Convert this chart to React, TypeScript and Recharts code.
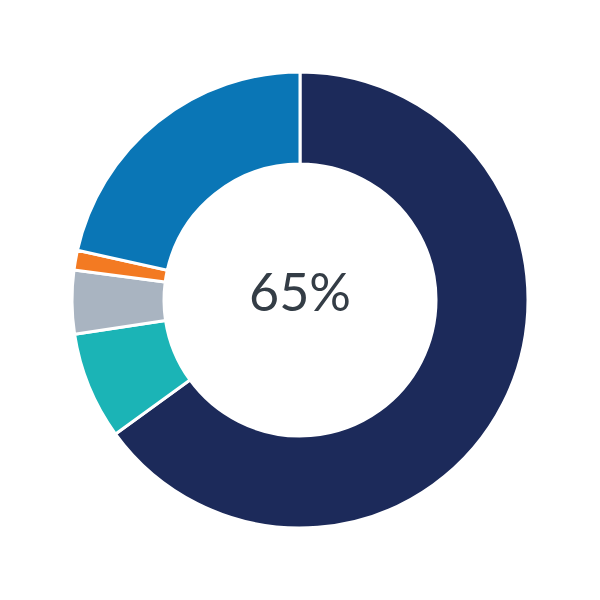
import { PieChart, Pie, Cell } from "recharts";

const labels = ["Navy", "Teal", "Gray", "Orange", "Blue"];
const values = [65, 7.6, 4.5, 1.4, 21.5];
const colors = ["#1c2a5a", "#1bb4b6", "#a9b4c1", "#f37a22", "#0a76b6"];
const centerLabel = "65%";

const data = labels.map((name, i) => ({ name, value: values[i] }));

export default function App() {
  return (
    <div style={{ position: "absolute", left: 0, top: 0, width: 600, height: 600, background: "#fff" }}>
      <PieChart width={600} height={600} margin={{ top: 0, right: 0, bottom: 0, left: 0 }}>
        <Pie
          data={data}
          dataKey="value"
          cx={300}
          cy={300}
          innerRadius={136}
          outerRadius={228}
          startAngle={90}
          endAngle={-270}
          stroke="#fff"
          strokeWidth={3}
          isAnimationActive={false}
        >
          {data.map((d, i) => (
            <Cell key={d.name} fill={colors[i]} />
          ))}
        </Pie>
        <text
          x={300}
          y={311}
          textAnchor="middle"
          fontFamily="Lato, sans-serif"
          fontSize={52}
          fill="#343d46"
        >
          {centerLabel}
        </text>
      </PieChart>
    </div>
  );
}
